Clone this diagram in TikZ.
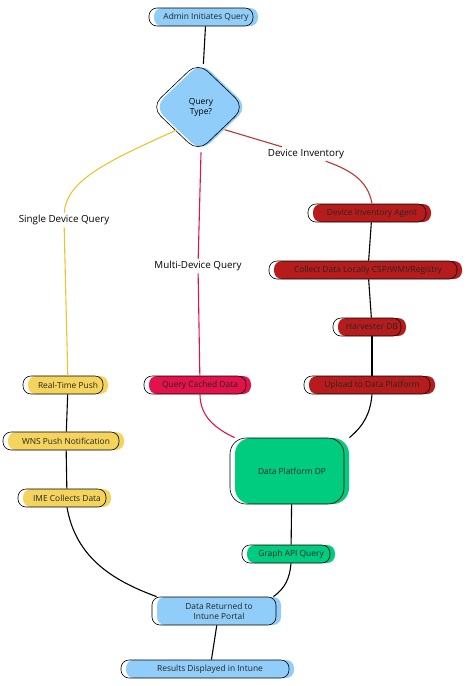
\documentclass[tikz,border=0pt]{standalone}
\usepackage{fontspec}
\setmainfont{Open Sans}
\usetikzlibrary{shapes.geometric}
\definecolor{skyblue}{HTML}{90CDF9}
\definecolor{sunyellow}{HTML}{F5D45E}
\definecolor{crimson}{HTML}{E2134B}
\definecolor{darkred}{HTML}{B71C1C}
\definecolor{mintgreen}{HTML}{00CC80}
\definecolor{lineyellow}{HTML}{F2C12E}

\begin{document}
\begin{tikzpicture}[x=1pt,y=-1pt,thick,
    box/.style={rounded corners=8pt, minimum height=18pt, inner xsep=6pt,
        font=\fontsize{8.4}{10}\selectfont, text=black!85,
        postaction={draw=black, semithick, transform canvas={xshift=-5pt}}},
    lbl/.style={fill=white, inner sep=2pt, font=\fontsize{9.8}{11}\selectfont},
    flow/.style={line width=1.1pt}
]
\useasboundingbox (0,0) rectangle (474,686);

% start and decision
\node[box, fill=skyblue, minimum width=104pt] (aiq) at (206,17) {Admin Initiates Query};
\node[diamond, fill=skyblue, rounded corners=13pt, minimum width=94pt, minimum height=90pt,
    align=center, font=\fontsize{8.4}{10}\selectfont,
    postaction={draw=black, semithick, transform canvas={xshift=-3pt}}] (qt) at (201,107) {Query\\Type?};

% edge labels
\node[lbl] (sdq) at (64,220) {Single Device Query};
\node[lbl] (mdq) at (198,266) {Multi-Device Query};
\node[lbl] (dinv) at (306,154) {Device Inventory};

% single device branch
\node[box, fill=sunyellow, minimum width=80pt] (rtp) at (68,385) {Real-Time Push};
\node[box, fill=sunyellow, minimum width=116pt] (wns) at (66,441) {WNS Push Notification};
\node[box, fill=sunyellow, minimum width=88pt] (ime) at (67,498) {IME Collects Data};

% multi device branch
\node[box, fill=crimson, minimum width=102pt] (qcd) at (200,385) {Query Cached Data};

% device inventory branch
\node[box, fill=darkred, minimum width=118pt] (dia) at (372,213) {Device Inventory Agent};
\node[box, fill=darkred, minimum width=188pt] (cdl) at (368,270) {Collect Data Locally CSP/WMI/Registry};
\node[box, fill=darkred, minimum width=68pt] (hdb) at (372,327) {Harvester DB};
\node[box, fill=darkred, minimum width=126pt] (upl) at (372,385) {Upload to Data Platform};

% platform and results
\node[box, fill=mintgreen, rounded corners=16pt, minimum width=114pt, minimum height=66pt] (dp) at (292,471) {Data Platform DP};
\node[box, fill=mintgreen, minimum width=88pt] (gaq) at (291,554) {Graph API Query};
\node[box, fill=skyblue, minimum width=124pt, minimum height=28pt, align=center] (drt) at (219,611) {Data Returned to\\Intune Portal};
\node[box, fill=skyblue, minimum width=168pt] (rdi) at (210,669) {Results Displayed in Intune};

% connectors
\draw[flow] (aiq) -- (qt);
\draw[flow, lineyellow] (qt.south west) .. controls (110,160) and (66,180) .. (sdq) -- (rtp);
\draw[flow, crimson] (qt.south) -- (mdq) -- (qcd);
\draw[flow, darkred!90] (qt.south east) -- (dinv) to[out=-20,in=100] (dia.north);
\draw[flow] (dia) -- (cdl);
\draw[flow] (cdl) -- (hdb);
\draw[flow] (hdb) -- (upl);
\draw[flow, crimson] (qcd.south) to[out=-90,in=155] (dp.north west);
\draw[flow] (upl.south) to[out=-95,in=40] (dp.north east);
\draw[flow] (rtp) -- (wns);
\draw[flow] (wns) -- (ime);
\draw[flow] (ime.south) to[out=-80,in=160] (drt.north west);
\draw[flow] (dp) -- (gaq);
\draw[flow] (gaq.south) to[out=-95,in=35] ([xshift=-8pt]drt.north east);
\draw[flow] (drt) -- (rdi);
\end{tikzpicture}
\end{document}
